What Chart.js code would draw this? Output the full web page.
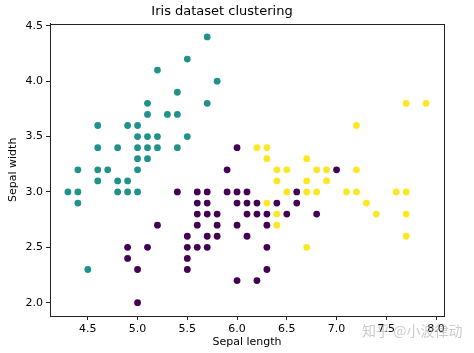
<!DOCTYPE html>
<html>
<head>
<meta charset="utf-8">
<script src="https://cdn.jsdelivr.net/npm/chart.js@4"></script>
<style>
  html, body { margin: 0; padding: 0; background: #fff; }
  #wrap { width: 474px; height: 353px; }
</style>
</head>
<body>
<div id="wrap"><canvas id="chart"></canvas></div>
<script>
// cluster 0 (teal)
const tealLen = [4.3,4.4,4.4,4.4,4.5,4.6,4.6,4.6,4.6,4.7,4.8,4.8,4.8,4.9,4.9,4.9,5.0,5.0,5.0,5.0,5.0,5.0,5.1,5.1,5.1,5.1,5.1,5.2,5.2,5.2,5.3,5.4,5.4,5.4,5.5,5.5,5.7,5.7,5.8];
const tealWid = [3.0,2.9,3.0,3.2,2.3,3.1,3.2,3.4,3.6,3.2,3.0,3.1,3.4,3.0,3.1,3.6,3.0,3.2,3.3,3.4,3.5,3.6,3.3,3.4,3.5,3.7,3.8,3.4,3.5,4.1,3.7,3.4,3.7,3.9,3.5,4.2,3.8,4.4,4.0];

// cluster 1 (purple)
const purpleLen = [6.0,5.9,7.0,5.4,5.6,5.7,5.9,6.0,6.1,6.6,5.6,5.7,6.0,6.1,6.2,6.4,6.6,5.6,5.7,5.8,6.1,6.2,6.3,6.5,6.8,5.2,5.6,5.8,6.0,6.3,5.5,5.7,5.8,6.1,4.9,5.1,5.5,5.6,5.7,6.3,4.9,5.5,5.0,5.5,6.3,6.0,6.2,5.0];
const purpleWid = [3.4,3.2,3.2,3.0,3.0,3.0,3.0,3.0,3.0,3.0,2.9,2.9,2.9,2.9,2.9,2.9,2.9,2.8,2.8,2.8,2.8,2.8,2.8,2.8,2.8,2.7,2.7,2.7,2.7,2.7,2.6,2.6,2.6,2.6,2.5,2.5,2.5,2.5,2.5,2.5,2.4,2.4,2.3,2.3,2.3,2.2,2.2,2.0];

// cluster 2 (yellow)
const yellowLen = [7.7,7.9,7.2,6.2,6.3,6.3,6.7,6.4,6.5,6.8,6.9,7.2,6.4,6.7,6.9,6.5,6.7,6.8,7.1,7.2,7.6,7.7,6.3,7.3,6.4,7.4,7.7,6.4,7.7,6.7];
const yellowWid = [3.8,3.8,3.6,3.4,3.4,3.3,3.3,3.2,3.2,3.2,3.2,3.2,3.1,3.1,3.1,3.0,3.0,3.0,3.0,3.0,3.0,3.0,2.9,2.9,2.8,2.8,2.8,2.7,2.6,2.5];

const xTicks = [4.5, 5.0, 5.5, 6.0, 6.5, 7.0, 7.5, 8.0];
const yTicks = [2.0, 2.5, 3.0, 3.5, 4.0, 4.5];

const toPoints = (xs, ys) => xs.map((x, i) => ({ x: x, y: ys[i] }));

const FONT = "'DejaVu Sans', sans-serif";

const frame = {
  id: "frame",
  afterDraw(chart) {
    const { ctx, chartArea: a } = chart;
    ctx.save();
    ctx.strokeStyle = "#222";
    ctx.lineWidth = 1;
    ctx.strokeRect(Math.round(a.left) + 0.5, Math.round(a.top) + 0.5,
      Math.round(a.right - a.left), Math.round(a.bottom - a.top));
    // watermark
    ctx.font = "14px 'Noto Sans CJK SC', sans-serif";
    ctx.fillStyle = "rgba(160,160,160,0.55)";
    ctx.textBaseline = "middle";
    ctx.fillText("知乎 @小波律动", 362, 331);
    ctx.restore();
  },
};

function pickTicks(list) {
  return (scale) => {
    scale.ticks = list.map((v) => ({ value: v }));
  };
}

new Chart(document.getElementById("chart"), {
  type: "scatter",
  data: {
    datasets: [
      { data: toPoints(tealLen, tealWid), backgroundColor: "#21918c" },
      { data: toPoints(purpleLen, purpleWid), backgroundColor: "#440154" },
      { data: toPoints(yellowLen, yellowWid), backgroundColor: "#fde725" },
    ],
  },
  options: {
    responsive: true,
    maintainAspectRatio: false,
    animation: false,
    layout: { padding: { left: 0, right: 30, top: 0, bottom: 0 } },
    elements: {
      point: { radius: 3.4, borderWidth: 0, hoverRadius: 3.4 },
    },
    scales: {
      x: {
        type: "linear",
        min: 4.12,
        max: 8.08,
        afterBuildTicks: pickTicks(xTicks),
        afterFit: (scale) => { scale.height = 37; },
        grid: { drawOnChartArea: false, drawTicks: true, tickLength: 4, color: "#222" },
        border: { display: true, color: "#222" },
        ticks: {
          color: "#000",
          padding: 3,
          maxRotation: 0,
          font: { family: FONT, size: 11 },
          callback: (v) => Number(v).toFixed(1),
        },
        title: {
          display: true,
          text: "Sepal length",
          color: "#000",
          font: { family: FONT, size: 11 },
          padding: { top: 0, bottom: 4 },
        },
      },
      y: {
        type: "linear",
        min: 1.88,
        max: 4.52,
        afterBuildTicks: pickTicks(yTicks),
        afterFit: (scale) => { scale.width = 50; },
        grid: { drawOnChartArea: false, drawTicks: true, tickLength: 4, color: "#222" },
        border: { display: true, color: "#222" },
        ticks: {
          color: "#000",
          padding: 3,
          font: { family: FONT, size: 11 },
          callback: (v) => Number(v).toFixed(1),
        },
        title: {
          display: true,
          text: "Sepal width",
          color: "#000",
          font: { family: FONT, size: 11 },
          padding: { top: 7, bottom: 0 },
        },
      },
    },
    plugins: {
      legend: { display: false },
      tooltip: { enabled: false },
      title: {
        display: true,
        text: "Iris dataset clustering",
        color: "#000",
        font: { family: FONT, size: 13, weight: "normal" },
        padding: { top: 4, bottom: 4 },
      },
    },
  },
  plugins: [frame],
});
</script>
</body>
</html>
